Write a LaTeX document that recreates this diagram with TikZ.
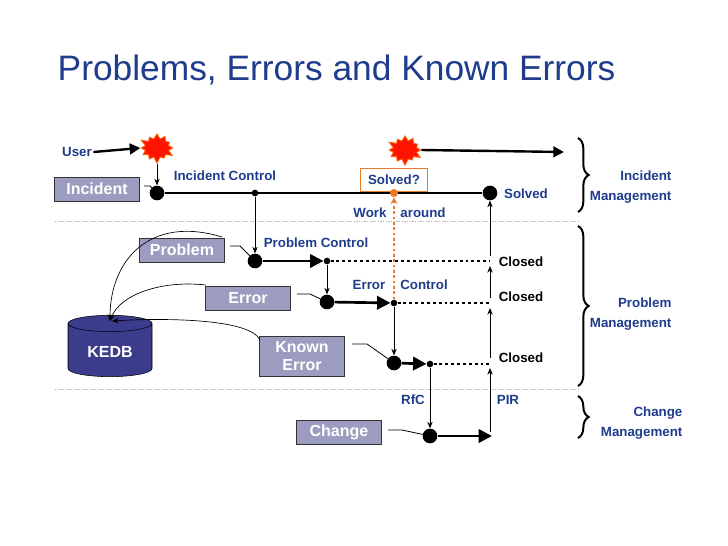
\documentclass[tikz,border=0pt]{standalone}
\usepackage{fontspec}
\setmainfont{Liberation Sans}
\usetikzlibrary{shapes.symbols,shapes.geometric,arrows.meta,decorations.pathreplacing}
\definecolor{tblue}{HTML}{1F3C8C}
\definecolor{boxf}{HTML}{9C9CC0}
\definecolor{kedb}{HTML}{3C3C8C}
\definecolor{org}{HTML}{E87A2A}
\begin{document}
\begin{tikzpicture}[x=0.75pt,y=-0.75pt,
  lbl/.style={text=tblue,font=\bfseries\fontsize{10}{11}\selectfont,inner sep=1pt},
  blk/.style={text=black,font=\bfseries\fontsize{10}{11}\selectfont,inner sep=1pt},
  box/.style={draw=black!80,fill=boxf,text=white,font=\bfseries\fontsize{12}{13.5}\selectfont,minimum width=64pt,minimum height=18pt,inner sep=1pt,align=center},
  big/.style={circle,fill=black,minimum size=11pt,inner sep=0pt},
  sm/.style={circle,fill=black,minimum size=5pt,inner sep=0pt},
  thick line/.style={line width=2pt},
  thin/.style={line width=0.6pt,-{Stealth[length=5pt,width=4pt]}},
  dotl/.style={line width=2.2pt,dash pattern=on 2.2pt off 2.2pt},
  tri/.style={-{Triangle[length=10pt,width=10pt]}},
  star/.style={starburst,fill=red!85!orange,draw=orange!80!red,line width=0.6pt,minimum width=28pt,minimum height=24pt,starburst points=12,starburst point height=5pt,inner sep=3pt},
  sep/.style={gray!60,line width=0.5pt,dash pattern=on 1pt off 1pt}]
\useasboundingbox (0,0) rectangle (728,546);
\node[anchor=west,text=tblue,font=\fontsize{26.5}{30}\selectfont] (title) at (53,70) {Problems, Errors and Known Errors};
\draw[sep] (55,221) -- (578,221);
\draw[sep] (55,389) -- (578,389);
% incident row
\node[lbl] (user) at (77,152) {User};
\node[star] (s1) at (157,148) {};
\node[star] (s2) at (405,150) {};
\coordinate (s2end) at (564,152);
\draw[line width=1.8pt,-{Triangle[length=8pt,width=8pt]}] (user.east) -- (s1.west);
\draw[line width=1.8pt,-{Triangle[length=8pt,width=8pt]}] (s2.east) -- (s2end);
\node[box] (inc) at (97,189) {Incident};
\node[big] (d1) at (157,193) {};
\node[sm] (d2) at (255,193) {};
\node[big] (dsolved) at (490,193) {};
\draw[thin] (s1.south) -- (d1.north);
\draw[line width=0.6pt] (inc.east)++(4,-3) -- ++(6,0) -- (d1);
\draw[thick line] (d1) -- (dsolved);
\node[draw=org,fill=white,text=tblue,font=\bfseries\fontsize{10}{11}\selectfont,minimum width=50pt,minimum height=17pt,inner sep=1pt] (solvedq) at (394,180) {Solved?};
\node[circle,fill=org,minimum size=6pt,inner sep=0pt] (od) at (394,193) {};
\node[lbl] (ic) at (225,176) {Incident Control};
\node[lbl] (solved) at (526,194) {Solved};
\node[lbl] (work) at (370,213) {Work};
\node[lbl] (around) at (423,213) {around};
% problem row
\node[box] (prob) at (182,250) {Problem};
\node[big] (dp) at (255,261) {};
\node[sm] (dp2) at (327,261) {};
\coordinate (cp) at (490,261);
\draw[thin] (d2) -- (dp.north);
\draw[line width=0.6pt] (230,246) -- (240,246) -- (dp);
\draw[thick line,tri] (dp) -- (dp2);
\draw[dotl] (dp2) -- (cp);
\node[lbl] (pc) at (316,243) {Problem Control};
\node[blk] (cl1) at (521,262) {Closed};
% error row
\node[box] (err) at (248,298) {Error};
\node[big] (de) at (327,302) {};
\node[sm] (de2) at (394,303) {};
\coordinate (ce) at (490,303);
\draw[thin] (dp2) -- (de.north);
\draw[line width=0.6pt] (297,294) -- (310,294) -- (de);
\draw[thick line,tri] (de) -- (de2);
\draw[dotl] (de2) -- (ce);
\node[lbl] (ec1) at (369,285) {Error};
\node[lbl] (ec2) at (424,285) {Control};
\node[blk] (cl2) at (521,297) {Closed};
\draw[org,line width=1.5pt,dash pattern=on 2pt off 2pt,-{Stealth[length=5pt,width=5pt]}] (de2) -- (od.south);
% known error row
\node[box,minimum height=30pt] (ke) at (302,356) {Known\\Error};
\node[big] (dk) at (394,363) {};
\node[sm] (dk2) at (430,364) {};
\coordinate (ck) at (490,364);
\draw[thin] (de2) -- (dk.north);
\draw[line width=0.6pt] (352,344) -- (367,344) -- (dk);
\draw[thick line,tri] (dk) -- (dk2);
\draw[dotl] (dk2) -- (ck);
\node[blk] (cl3) at (521,358) {Closed};
% change row
\node[box] (chg) at (339,432) {Change};
\node[big] (dc) at (430,436) {};
\coordinate (cend) at (492,436);
\draw[thin] (dk2) -- (dc.north);
\draw[line width=0.6pt] (388,430) -- (402,430) -- (dc);
\draw[thick line,tri] (dc) -- (cend);
\node[lbl] (rfc) at (413,400) {RfC};
\node[lbl] (pir) at (508,400) {PIR};
% PIR vertical
\coordinate (v0) at (490,432);
\coordinate (v1) at (490,368);
\coordinate (v1b) at (490,358);
\coordinate (v2) at (490,308);
\coordinate (v2b) at (490,298);
\coordinate (v3) at (490,266);
\coordinate (v3b) at (490,256);
\draw[thin] (v0) -- (v1);
\draw[thin] (v1b) -- (v2);
\draw[thin] (v2b) -- (v3);
\draw[thin] (v3b) -- (dsolved.south);
% KEDB
\node[cylinder,shape border rotate=90,aspect=0.3,draw=black,fill=kedb,text=white,font=\bfseries\fontsize{12}{13}\selectfont,minimum width=63pt,minimum height=46pt] (kedb) at (110,352) {KEDB};
\draw[line width=0.5pt,-{Stealth[length=5pt,width=4pt]}] (222,237) .. controls (150,215) and (110,260) .. (110,321);
\draw[line width=0.5pt,-{Stealth[length=5pt,width=4pt]}] (206,285) .. controls (160,280) and (120,295) .. (110,321);
\draw[line width=0.5pt,-{Stealth[length=5pt,width=4pt]}] (260,340) .. controls (250,318) and (160,318) .. (112,321);
% braces
\draw[line width=1.5pt,decorate,decoration={brace,amplitude=8pt}] (578,138) -- (578,212);
\draw[line width=1.5pt,decorate,decoration={brace,amplitude=8pt}] (578,226) -- (578,386);
\draw[line width=1.5pt,decorate,decoration={brace,amplitude=8pt}] (578,396) -- (578,438);
\node[lbl,align=right,anchor=east,font=\bfseries\fontsize{10}{15.5}\selectfont] (im) at (673,187) {Incident\\Management};
\node[lbl,align=right,anchor=east,font=\bfseries\fontsize{10}{15.5}\selectfont] (pm) at (673,314) {Problem\\Management};
\node[lbl,align=right,anchor=east,font=\bfseries\fontsize{10}{15.5}\selectfont] (cm) at (684,423) {Change\\Management};
\end{tikzpicture}
\end{document}
